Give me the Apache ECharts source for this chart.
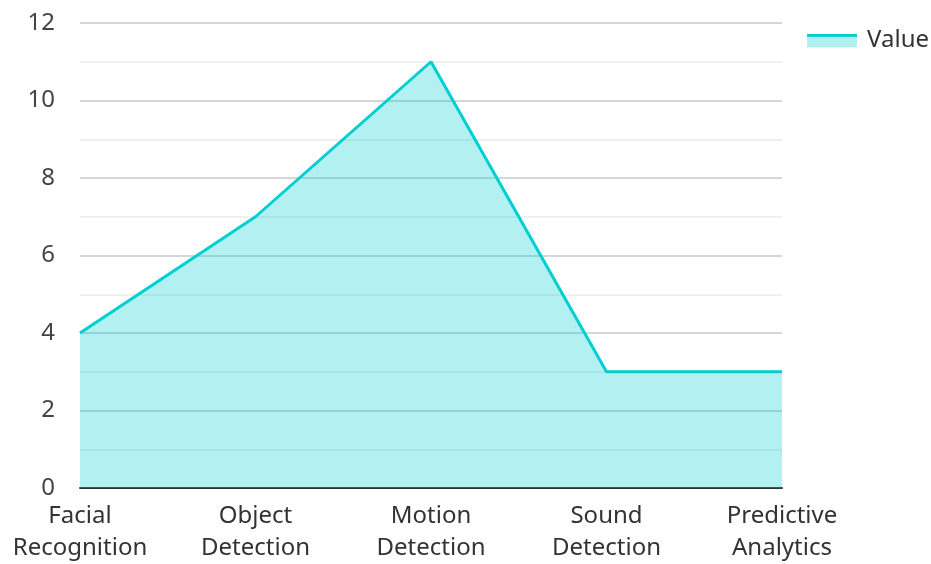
<!DOCTYPE html>
<html><head><meta charset="utf-8">
<script src="https://cdn.jsdelivr.net/npm/echarts@6/dist/echarts.min.js"></script>
<style>html,body{margin:0;padding:0;background:#fff}#c{width:931px;height:564px}</style>
</head><body><div id="c"></div>
<script>
const categories = ["Facial\nRecognition", "Object\nDetection", "Motion\nDetection", "Sound\nDetection", "Predictive\nAnalytics"];
const values = [4, 7, 11, 3, 3];
const seriesName = "Value";

const iconSvg = '<svg xmlns="http://www.w3.org/2000/svg" width="50" height="14" viewBox="0 0 50 14">' +
  '<rect x="0" y="3" width="50" height="11" fill="rgb(178,240,240)"/>' +
  '<rect x="0" y="0" width="50" height="3.4" fill="#00CED1"/></svg>';
const iconUri = 'image://data:image/svg+xml;charset=utf-8,' + encodeURIComponent(iconSvg);

const chart = echarts.init(document.getElementById('c'));
chart.setOption({
  animation: false,
  textStyle: { fontFamily: "Noto Sans" },
  grid: { left: 80, right: 149, top: 23, bottom: 74, containLabel: false },
  legend: {
    right: 2, top: 28, padding: 0, itemWidth: 50, itemHeight: 14, itemGap: 10,
    icon: iconUri,
    textStyle: { fontSize: 24, color: '#333', fontFamily: "Noto Sans", lineHeight: 14, padding: [0, 0, 11, 5] },
    data: [{ name: seriesName, icon: iconUri }]
  },
  xAxis: {
    type: 'category', data: categories, boundaryGap: false,
    axisLine: { lineStyle: { color: '#333', width: 2 } },
    axisTick: { show: false },
    axisLabel: { fontSize: 24, color: '#333', lineHeight: 32, margin: 12, interval: 0 }
  },
  yAxis: {
    type: 'value', min: 0, max: 12, interval: 2,
    axisLine: { show: false }, axisTick: { show: false },
    axisLabel: { fontSize: 24, color: '#444', margin: 25 },
    splitLine: { lineStyle: { color: '#c8c8c8', width: 1.5 } },
    minorTick: { show: false, splitNumber: 2 },
    minorSplitLine: { show: true, lineStyle: { color: '#ebebeb', width: 1.5 } }
  },
  series: [{
    name: seriesName, type: 'line', data: values, symbol: 'none',
    lineStyle: { color: '#00CED1', width: 3 },
    itemStyle: { color: '#00CED1' },
    areaStyle: { color: '#00CED1', opacity: 0.3 }
  }]
});
</script></body></html>
